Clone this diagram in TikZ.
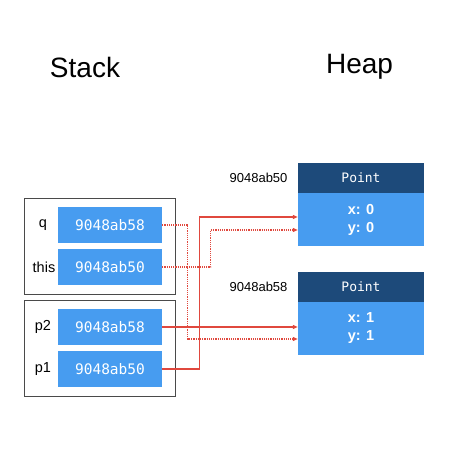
\documentclass[tikz,border=0pt]{standalone}
\usepackage{fontspec}
\setmainfont{Liberation Sans}
\newfontfamily\monofont{DejaVu Sans Mono}
\usetikzlibrary{arrows.meta}
\definecolor{cellblue}{HTML}{479CF0}
\definecolor{headblue}{HTML}{1D4A7A}
\definecolor{refred}{HTML}{E0483E}
\definecolor{framegray}{HTML}{4A4A4A}
\tikzset{
    cell/.style={fill=cellblue, text=white, minimum width=104pt, minimum height=36pt,
        inner sep=0pt, font=\monofont\fontsize{14.5}{16}\selectfont},
    frame/.style={draw=framegray, line width=1pt, minimum width=151pt, minimum height=96pt, inner sep=0pt},
    head/.style={fill=headblue, text=white, minimum width=126pt, minimum height=30pt,
        inner sep=0pt, font=\monofont\fontsize{13}{14}\selectfont},
    body/.style={fill=cellblue, text=white, minimum width=126pt, minimum height=53pt,
        inner sep=0pt, align=center, font=\bfseries\fontsize{14.5}{18}\selectfont},
    var/.style={font=\fontsize{14.5}{16}\selectfont},
    addr/.style={anchor=east, font=\fontsize{13}{14}\selectfont},
    ref/.style={color=refred, line width=1.2pt, -{Triangle[length=5pt,width=4pt]}},
}
\begin{document}
\begin{tikzpicture}[x=1pt,y=-1pt]
    \useasboundingbox (0,0) rectangle (474,474);

    % titles
    \node[font=\fontsize{28}{30}\selectfont] (stack) at (85,67) {Stack};
    \node[font=\fontsize{28}{30}\selectfont] (heap) at (359.5,67) {Heap};

    % stack frames
    \node[frame] (frame1) at (99.5,246) {};
    \node[frame] (frame2) at (99.5,348.5) {};

    % stack cells
    \node[cell] (q) at (110,225) {9048ab58};
    \node[cell] (this) at (110,267) {9048ab50};
    \node[cell] (p2) at (110,327) {9048ab58};
    \node[cell] (p1) at (110,369) {9048ab50};

    \node[var] (qlabel) at (43,225) {q};
    \node[var] (thislabel) at (44,267) {this};
    \node[var] (p2label) at (43,327) {p2};
    \node[var] (p1label) at (43,369) {p1};

    % heap objects
    \node[head] (h1) at (361,178) {Point};
    \node[body] (b1) at (361,219.5) {x: 0\\y: 0};
    \node[addr] (a1) at (291,178) {9048ab50};

    \node[head] (h2) at (361,287) {Point};
    \node[body] (b2) at (361,328.5) {x: 1\\y: 1};
    \node[addr] (a2) at (291,287) {9048ab58};

    % references
    \draw[ref] (p1.east) -- ++(37.5,0) |- ([yshift=2.5pt]b1.west);
    \draw[ref, densely dotted] (this.east) -- ++(48.5,0) |- ([yshift=-10.5pt]b1.west);
    \draw[ref] (p2.east) -- ([yshift=1.5pt]b2.west);
    \draw[ref, densely dotted] (q.east) -- ++(25.5,0) |- ([yshift=-10.5pt]b2.west);
\end{tikzpicture}
\end{document}
